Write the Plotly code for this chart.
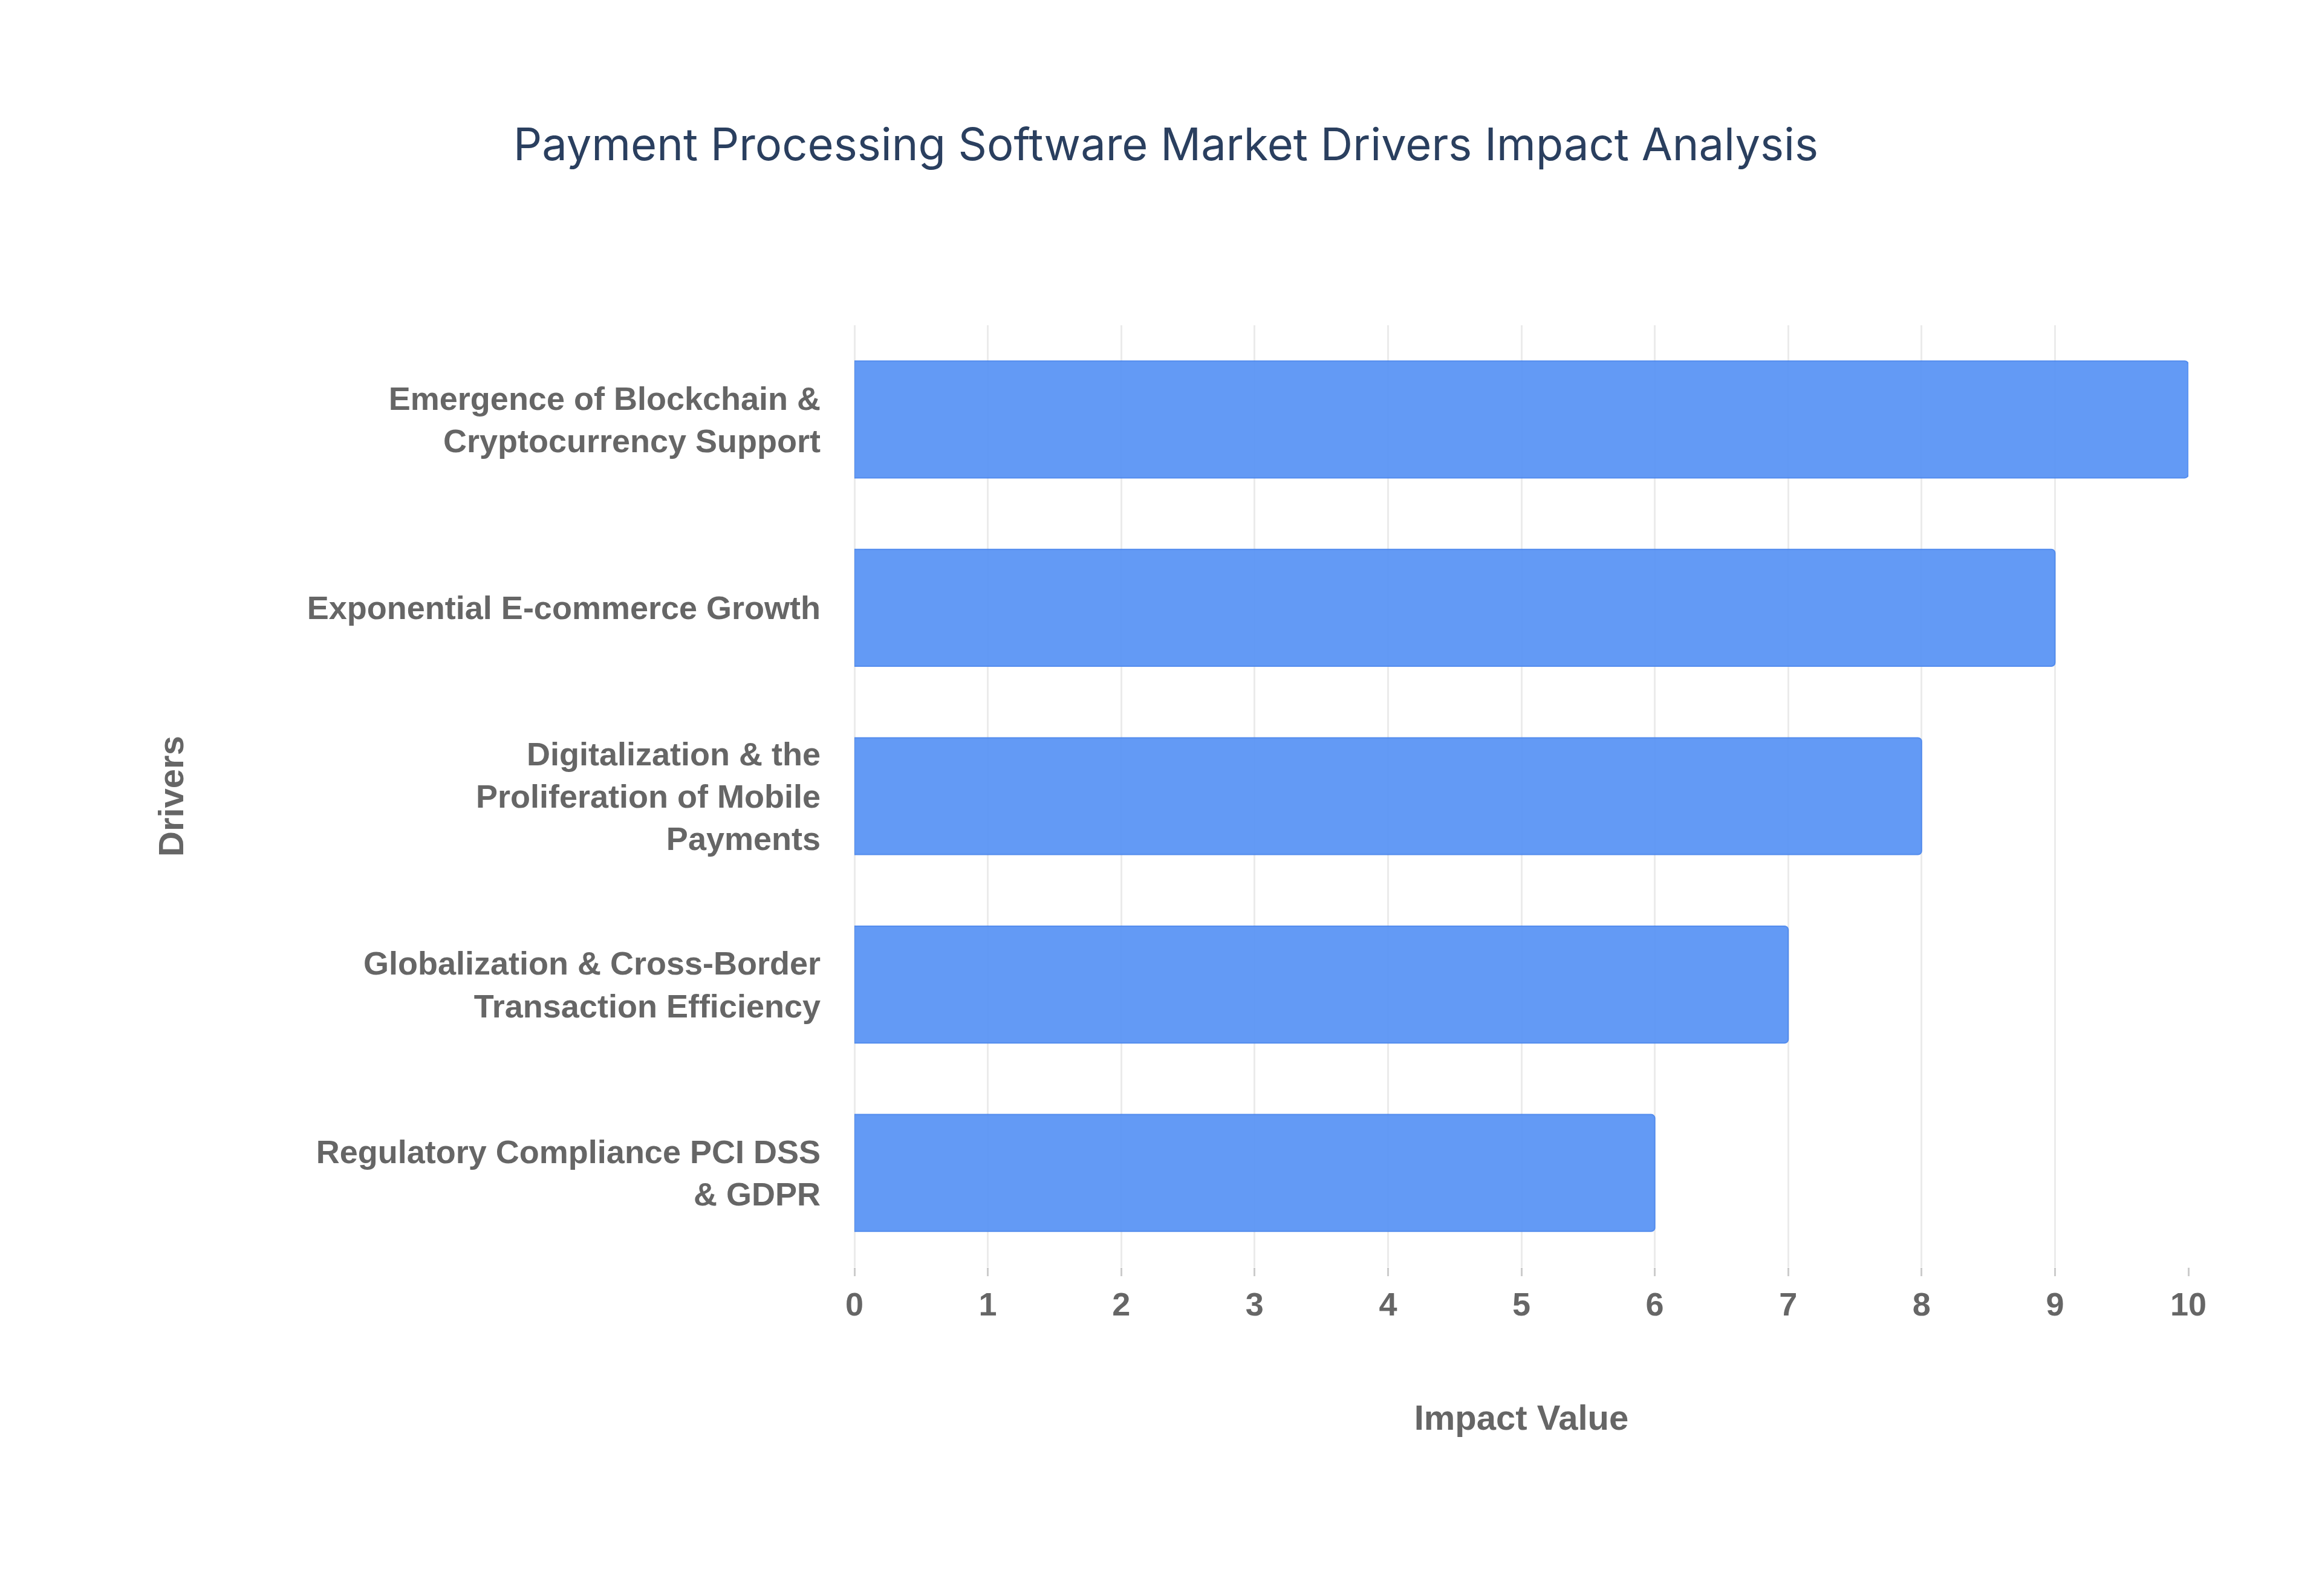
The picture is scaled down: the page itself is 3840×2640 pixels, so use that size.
import plotly.graph_objects as go

drivers = ["Regulatory Compliance PCI DSS<br>& GDPR",
           "Globalization & Cross-Border<br>Transaction Efficiency",
           "Digitalization & the<br>Proliferation of Mobile<br>Payments",
           "Exponential E-commerce Growth",
           "Emergence of Blockchain &<br>Cryptocurrency Support"]
impact = [6, 7, 8, 9, 10]

fig = go.Figure(go.Bar(
    x=impact, y=drivers, orientation="h", width=0.62,
    marker=dict(color="#5b95f5", opacity=0.95, line=dict(color="#4a86ee", width=2), cornerradius=6),
))
fig.update_layout(
    width=3840, height=2640,
    paper_bgcolor="white", plot_bgcolor="white",
    margin=dict(l=1405, r=229, t=530, b=552),
    title=dict(text="Payment Processing Software Market Drivers Impact Analysis",
               x=0.5, xanchor="center", y=0.9125, yanchor="middle",
               font=dict(family="Inter", size=74, color="#2a3f5f")),
    font=dict(family="Liberation Sans", size=54, color="#666666"),
    showlegend=False,
)
fig.update_xaxes(range=[0, 10], dtick=1, showgrid=True, gridcolor="#ebebeb", gridwidth=3,
                 zeroline=True, zerolinecolor="#ebebeb", zerolinewidth=3,
                 ticks="outside", ticklen=14, tickcolor="#cccccc", tickwidth=3,
                 tickfont=dict(family="Liberation Sans", size=54, color="#666666", weight="bold"),
                 title=dict(text="<b>Impact Value</b>", standoff=138,
                            font=dict(family="Liberation Sans", size=58, color="#666666")))
fig.update_yaxes(tickfont=dict(family="Liberation Sans", size=54, color="#666666", weight="bold"),
                 ticks="", ticklabelstandoff=55, range=[-0.5, 4.5],
                 title=dict(text="<b>Drivers</b>", standoff=185,
                            font=dict(family="Liberation Sans", size=58, color="#666666")))
fig.write_html("out.html")
